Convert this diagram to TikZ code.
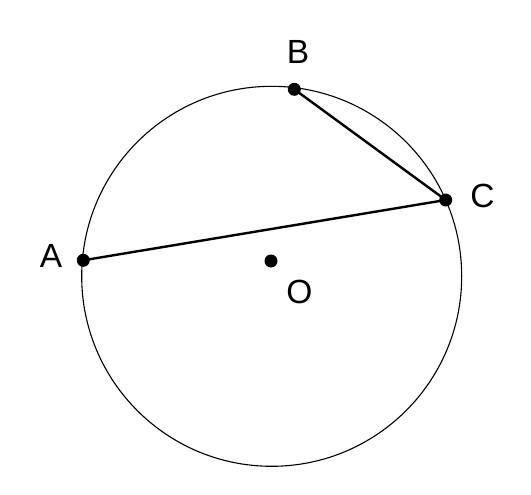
\documentclass[tikz,border=0pt]{standalone}
\usepackage{fontspec}
\setmainfont{Liberation Sans}
\begin{document}
\begin{tikzpicture}[x=1pt,y=-1pt,
  dot/.style={circle,fill=black,inner sep=0pt,minimum size=13pt},
  lbl/.style={inner sep=0pt,font=\fontsize{33.5}{40}\selectfont},
  chord/.style={line width=2.4pt},
  rim/.style={line width=1.1pt}]
\useasboundingbox (0,0) rectangle (531,495);
\coordinate (ctr) at (271.7,276.3);
\draw[rim] (ctr) circle[radius=190];
\node[dot] (A) at (83.3,260.3) {};
\node[dot] (B) at (294.3,89.3) {};
\node[dot] (C) at (445.7,200) {};
\node[dot] (O) at (271,261) {};
\draw[chord] (A.center) -- (C.center);
\draw[chord] (B.center) -- (C.center);
\node[lbl] (lA) at (51,255.5) {A};
\node[lbl] (lB) at (298,52) {B};
\node[lbl] (lC) at (482.5,195.5) {C};
\node[lbl] (lO) at (299.5,292) {O};
\end{tikzpicture}
\end{document}
